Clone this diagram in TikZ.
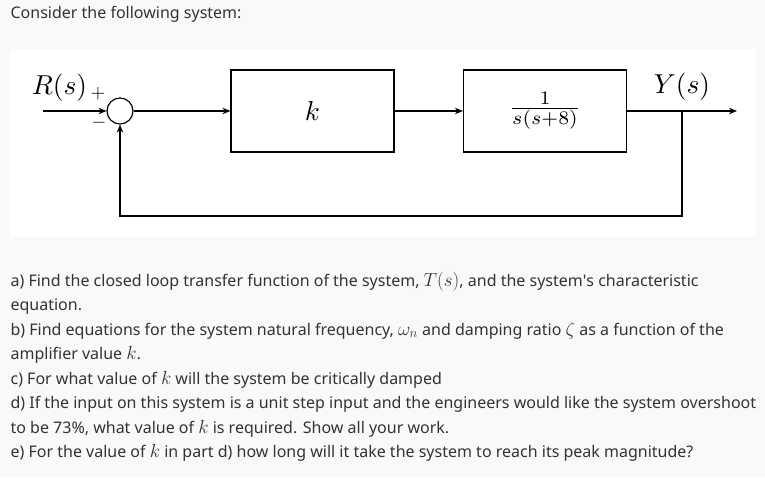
\documentclass[tikz,border=0pt]{standalone}
\usepackage{fix-cm}
\usepackage[no-math]{fontspec}
\setmainfont{Noto Sans}
\usetikzlibrary{arrows.meta}
\definecolor{pagebg}{RGB}{249,249,249}
\definecolor{qtext}{RGB}{51,51,51}
\newcommand\qm[1]{{\fontsize{19}{22}\selectfont$#1$}}
\tikzset{
	blk/.style={draw,minimum width=163pt,minimum height=82pt,inner sep=0pt},
	sumnode/.style={draw,circle,minimum size=26pt,inner sep=0pt},
	sig/.style={-{Stealth[length=8pt,width=6.5pt]}},
	big/.style={inner sep=0pt,scale=2.74,transform shape},
	small/.style={inner sep=0pt,scale=1.9,transform shape},
	qline/.style={anchor=base west,inner sep=0pt,text=qtext,font=\fontsize{16}{19}\selectfont}
}
\begin{document}
\begin{tikzpicture}[x=1pt,y=-1pt,line width=1.2pt]
	\fill[pagebg] (0,0) rectangle (765,477);
	\useasboundingbox (0,0) rectangle (765,477);
	\fill[white] (10,49) rectangle (756,237);
	\node[qline] (title) at (10,18) {Consider the following system:};
	
	\coordinate (in) at (43,111);
	\node[sumnode] (sum) at (120,111) {};
	\node[blk] (gain) at (312.5,111) {};
	\node[blk] (plant) at (545,111) {};
	\node[big] (k) at (gain) {$k$};
	\node[big] (tf) at (plant) {$\frac{1}{s(s+8)}$};
	\coordinate (tap) at (682,111);
	\coordinate (out) at (737,111);
	\coordinate (fb) at (682,216);
	\draw[sig] (in) -- (sum);
	\draw[sig] (sum) -- (gain);
	\draw[sig] (gain) -- (plant);
	\draw[sig] (plant) -- (out);
	\draw[sig] (tap) -- (fb) -| (sum.south);
	\node[big] (rlab) at (59.5,88) {$R(s)$};
	\node[small] (plus) at (98,94) {$+$};
	\node[small] (minus) at (99,123) {$-$};
	\node[big] (ylab) at (682,87) {$Y(s)$};
	
	\node[qline] (qa1) at (10,286) {a) Find the closed loop transfer function of the system, \qm{T(s)}, and the system\textquotesingle s characteristic};
	\node[qline] (qa2) at (10,310.5) {equation.};
	\node[qline] (qb1) at (10,335) {b) Find equations for the system natural frequency, \qm{\omega_n} and damping ratio \qm{\zeta} as a function of the};
	\node[qline] (qb2) at (10,359.5) {amplifier value \qm{k}.};
	\node[qline] (qc) at (10,384) {c) For what value of \qm{k} will the system be critically damped};
	\node[qline] (qd1) at (10,408.5) {d) If the input on this system is a unit step input and the engineers would like the system overshoot};
	\node[qline] (qd2) at (10,433) {to be 73\%, what value of \qm{k} is required. Show all your work.};
	\node[qline] (qe) at (10,457.5) {e) For the value of \qm{k} in part d) how long will it take the system to reach its peak magnitude?};
\end{tikzpicture}
\end{document}
